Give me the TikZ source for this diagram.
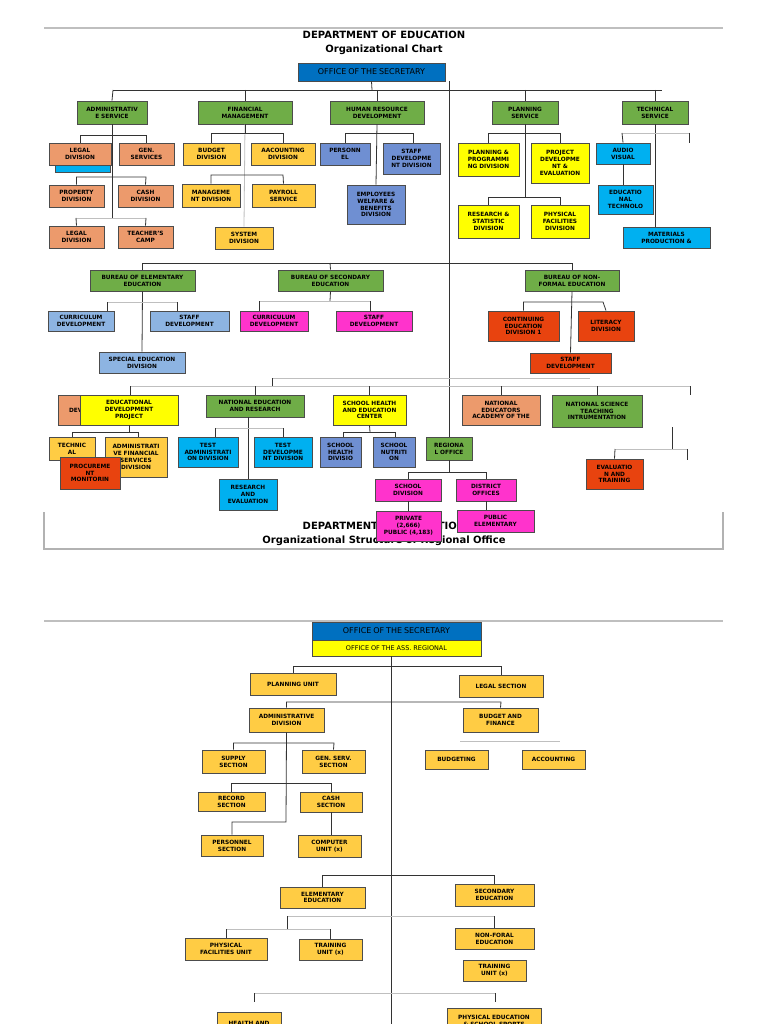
\documentclass[tikz,border=0pt]{standalone}
\usepackage{fontspec}
\setmainfont{DejaVu Sans}
\definecolor{cgreen}{HTML}{6FAD47}
\definecolor{corange}{HTML}{EC9A6C}
\definecolor{cgold}{HTML}{FFCC44}
\definecolor{cbgrey}{HTML}{6F8FD2}
\definecolor{ccyan}{HTML}{00B0F0}
\definecolor{cyel}{HTML}{FFFF00}
\definecolor{cmag}{HTML}{FF33CC}
\definecolor{cred}{HTML}{E8430F}
\definecolor{clblue}{HTML}{8DB4E2}
\definecolor{cdblue}{HTML}{0070C0}
\tikzset{box/.style={draw=black!70,line width=0.9pt,align=center,inner sep=0pt,
  font=\fontsize{5.8}{6.8}\selectfont\bfseries},
  ln/.style={draw=black!80,line width=0.8pt},
  fln/.style={draw=black!25,line width=0.8pt},
  ttl/.style={font=\fontsize{10}{12}\selectfont\bfseries}}
\newcommand\bx[7]{\pgfmathsetmacro\mytw{#4-#2-2}\pgfmathsetmacro\mymw{#4-#2}\pgfmathsetmacro\mymh{#5-#3}%
  \node[box,fill=#6,minimum width=\mymw pt,minimum height=\mymh pt,text width=\mytw pt] (#1) at ({(#2+#4)/2},{(#3+#5)/2}) {#7};}
\newcommand\con[3]{\draw[ln] (#1.south) -- (#1.south |- 0,#2) -| (#3.north);}
\begin{document}
\begin{tikzpicture}[x=1pt,y=-1pt]
\useasboundingbox (0,0) rectangle (768,1024);
\fill[white] (0,0) rectangle (768,1024);
\clip (0,0) rectangle (768,1024);
% ===== top chart =====
\draw[black!25,line width=1.2pt] (44,28) -- (723,28);
\node[ttl] (t1) at (384,35) {DEPARTMENT OF EDUCATION};
\node[ttl] (t2) at (384,50) {Organizational Chart};
\bx{sec}{298}{63}{445}{81}{cdblue}{\fontsize{8}{9}\selectfont\mdseries OFFICE OF THE SECRETARY}
\bx{adm}{77}{101}{147}{124}{cgreen}{ADMINISTRATIV\\E SERVICE}
\bx{fin}{198}{101}{292}{124}{cgreen}{FINANCIAL\\MANAGEMENT}
\bx{hr}{330}{101}{424}{124}{cgreen}{HUMAN RESOURCE\\DEVELOPMENT}
\bx{pla}{492}{101}{558}{124}{cgreen}{PLANNING\\SERVICE}
\bx{tec}{622}{101}{688}{124}{cgreen}{TECHNICAL\\SERVICE}
\coordinate (trunk) at (449,81);
\draw[ln] (sec.south) -- (372,90);
\draw[ln] (113,90) -- (662,90);
\foreach \n/\x in {adm/113,fin/245,hr/377,pla/525,tec/655}{\draw[ln] (\x,90) -- (\n.north);}
% admin
\bx{info}{55}{150}{110}{172}{ccyan}{\\INFORMATI}
\bx{leg1}{49}{143}{111}{165}{corange}{LEGAL\\DIVISION}
\bx{gen}{119}{143}{174}{165}{corange}{GEN.\\SERVICES}
\bx{prop}{49}{185}{104}{207}{corange}{PROPERTY\\DIVISION}
\bx{cash}{118}{185}{173}{207}{corange}{CASH\\DIVISION}
\bx{leg2}{49}{226}{104}{248}{corange}{LEGAL\\DIVISION}
\bx{tcamp}{118}{226}{173}{248}{corange}{TEACHER'S\\CAMP}
\draw[ln] (adm.south) -- (112,218);
\con{adm}{135}{leg1}\con{adm}{135}{gen}
\draw[ln] (prop.north) |- (146,177) -- (cash.north);
\draw[fln] (76,218) -- (146,218);
\draw[ln] (leg2.north) -- (76,218); \draw[ln] (tcamp.north) -- (146,218);
% financial
\bx{bud}{183}{143}{240}{165}{cgold}{BUDGET\\DIVISION}
\bx{acc}{251}{143}{315}{165}{cgold}{AACOUNTING\\DIVISION}
\bx{mgt}{182}{184}{240}{207}{cgold}{MANAGEME\\NT DIVISION}
\bx{pay}{252}{184}{315}{207}{cgold}{PAYROLL\\SERVICE}
\bx{sys}{215}{227}{273}{249}{cgold}{SYSTEM\\DIVISION}
\draw[fln] (fin.south) -- (sys.north);
\con{fin}{133}{bud}\con{fin}{133}{acc}
\draw[ln] (mgt.north) |- (283,175) -- (pay.north);
% HR
\bx{pers}{320}{143}{370}{165}{cbgrey}{PERSONN\\EL}
\bx{sdev}{383}{143}{440}{174}{cbgrey}{STAFF\\DEVELOPME\\NT DIVISION}
\bx{emp}{347}{185}{405}{224}{cbgrey}{EMPLOYEES\\WELFARE \&\\BENEFITS\\DIVISION}
\draw[ln] (hr.south) -- (emp.north);
\draw[ln] (345,143) |- (413,133) -- (413,143);
% planning
\bx{pp}{458}{143}{519}{176}{cyel}{PLANNING \&\\PROGRAMMI\\NG DIVISION}
\bx{pd}{531}{143}{589}{183}{cyel}{PROJECT\\DEVELOPME\\NT \&\\EVALUATION}
\bx{rs}{458}{205}{519}{238}{cyel}{RESEARCH \&\\STATISTIC\\DIVISION}
\bx{pf}{531}{205}{589}{238}{cyel}{PHYSICAL\\FACILITIES\\DIVISION}
\draw[ln] (pla.south) -- (525,198);
\con{pla}{133}{pp}\con{pla}{133}{pd}
\draw[ln] (rs.north) |- (560,197) -- (pf.north);
% technical
\bx{av}{596}{143}{650}{164}{ccyan}{AUDIO\\VISUAL}
\bx{et}{598}{185}{653}{214}{ccyan}{EDUCATIO\\NAL\\TECHNOLO}
\bx{mp}{623}{227}{710}{248}{ccyan}{MATERIALS\\PRODUCTION \&}
\draw[ln] (tec.south) -- (mp.north -| tec.south);
\draw[fln] (622,133) -- (689,133);
\draw[ln] (av.north) -- (622,133); \draw[ln] (689,133) -- (689,143);
\draw[ln] (av.south) -- (av.south |- et.north);
% bureaus
\draw[ln] (trunk) -- (449,437);
\bx{be}{90}{270}{195}{291}{cgreen}{BUREAU OF ELEMENTARY\\EDUCATION}
\bx{bs}{278}{270}{383}{291}{cgreen}{BUREAU OF SECONDARY\\EDUCATION}
\bx{bn}{525}{270}{619}{291}{cgreen}{BUREAU OF NON-\\FORMAL EDUCATION}
\draw[ln] (be.north) |- (572,263) -- (bn.north);
\draw[ln] (bs.north) -- (330,263);
\bx{cd1}{48}{311}{114}{331}{clblue}{CURRICULUM\\DEVELOPMENT}
\bx{sd1}{150}{311}{229}{331}{clblue}{STAFF\\DEVELOPMENT}
\bx{se}{99}{352}{185}{373}{clblue}{SPECIAL EDUCATION\\DIVISION}
\draw[ln] (be.south) -- (se.north);
\draw[fln] (107,302) -- (177,302);
\draw[ln] (107,311) -- (107,302); \draw[ln] (177,311) -- (177,302);
\bx{cd2}{240}{311}{308}{331}{cmag}{CURRICULUM\\DEVELOPMENT}
\bx{sd2}{336}{311}{412}{331}{cmag}{STAFF\\DEVELOPMENT}
\draw[ln] (bs.south) -- (330,301);
\draw[fln] (259,301) -- (370,301);
\draw[ln] (259,311) -- (259,301); \draw[ln] (370,311) -- (370,301);
\bx{ce}{488}{311}{559}{341}{cred}{CONTINUING\\EDUCATION\\DIVISION 1}
\bx{lit}{578}{311}{634}{341}{cred}{LITERACY\\DIVISION}
\bx{sd3}{530}{353}{611}{373}{cred}{STAFF\\DEVELOPMENT}
\draw[ln] (bn.south) -- (sd3.north);
\draw[ln] (ce.north) |- (603,302) -- (lit.north);
% third level
\bx{sd4}{58}{395}{120}{425}{corange}{S\\DEVELOPME\\NT D}
\bx{edp}{80}{395}{178}{425}{cyel}{EDUCATIONAL\\DEVELOPMENT\\PROJECT}
\bx{ner}{206}{395}{304}{417}{cgreen}{NATIONAL EDUCATION\\AND RESEARCH}
\bx{she}{333}{395}{406}{425}{cyel}{SCHOOL HEALTH\\AND EDUCATION\\CENTER}
\bx{nea}{462}{395}{540}{425}{corange}{NATIONAL\\EDUCATORS\\ACADEMY OF THE}
\bx{nst}{552}{395}{642}{427}{cgreen}{NATIONAL SCIENCE\\TEACHING\\INTRUMENTATION}
\draw[fln] (272,378) -- (590,378);
\draw[ln] (272,378) -- (272,386);
\draw[fln] (130,386) -- (690,386);
\draw[ln] (130,386) -- (130,395);
\draw[ln] (ner.north |- 0,386) -- (ner.north);
\draw[ln] (she.north |- 0,386) -- (she.north);
\draw[ln] (nea.north |- 0,386) -- (nea.north);
\draw[ln] (nst.north |- 0,386) -- (nst.north);
\draw[ln] (690,386) -- (690,395);
\bx{tech}{49}{437}{95}{460}{cgold}{TECHNIC\\AL}
\bx{afs}{105}{437}{167}{477}{cgold}{ADMINISTRATI\\VE FINANCIAL\\SERVICES\\DIVISION}
\bx{proc}{60}{457}{120}{489}{cred}{PROCUREME\\NT\\MONITORIN}
\draw[ln] (edp.south) -- (129,432);
\draw[ln] (tech.north) |- (138,432) -- (138,437);
\bx{ta}{178}{437}{238}{467}{ccyan}{TEST\\ADMINISTRATI\\ON DIVISION}
\bx{td}{254}{437}{312}{467}{ccyan}{TEST\\DEVELOPME\\NT DIVISION}
\bx{re}{219}{479}{277}{510}{ccyan}{RESEARCH\\AND\\EVALUATION}
\draw[ln] (re.north |- ner.south) -- (re.north);
\draw[fln] (215,428) -- (283,428);
\draw[ln] (215,428) -- (215,437); \draw[ln] (283,428) -- (283,437);
\bx{shd}{320}{437}{361}{467}{cbgrey}{SCHOOL\\HEALTH\\DIVISIO}
\bx{snu}{373}{437}{415}{467}{cbgrey}{SCHOOL\\NUTRITI\\ON}
\draw[ln] (she.south) -- (370,432);
\draw[ln] (343,437) |- (395,432) -- (395,437);
\bx{reg}{426}{437}{472}{460}{cgreen}{REGIONA\\L OFFICE}
\bx{eval}{586}{459}{643}{489}{cred}{EVALUATIO\\N AND\\TRAINING}
\draw[ln] (672,427) -- (672,449);
\draw[fln] (615,449) -- (687,449);
\draw[ln] (eval.north) -- (615,449); \draw[ln] (687,449) -- (687,460);
% bottom frame of first page
\draw[black!30,line width=1.2pt] (44,512) -- (44,549) -- (723,549) -- (723,512);
\node[ttl] (t3) at (384,526) {DEPARTMENT OF EDUCATION};
\node[ttl] (t4) at (384,541) {Organizational Structure of Regional Office};
\bx{sdiv}{375}{479}{441}{501}{cmag}{SCHOOL\\DIVISION}
\bx{dist}{456}{479}{516}{501}{cmag}{DISTRICT\\OFFICES}
\bx{priv}{376}{511}{441}{541}{cmag}{PRIVATE\\(2,666)\\PUBLIC (4,183)}
\bx{pub}{457}{510}{534}{532}{cmag}{PUBLIC\\ELEMENTARY}
\draw[ln] (reg.south) -- (449,472);
\draw[ln] (sdiv.north) |- (486,472) -- (dist.north);
\draw[ln] (sdiv.south) -- (priv.north -| sdiv.south);
\draw[ln] (dist.south) -- (pub.north -| dist.south);
% ===== second chart =====
\draw[black!25,line width=1.2pt] (44,621) -- (723,621);
\bx{sec2}{312}{622}{481}{640}{cdblue}{\fontsize{8}{9}\selectfont\mdseries OFFICE OF THE SECRETARY}
\bx{ass}{312}{640}{481}{656}{cyel}{\fontsize{6.5}{7}\selectfont\mdseries OFFICE OF THE ASS. REGIONAL}
\draw[ln] (391,656) -- (391,1024);
\bx{pu}{250}{673}{336}{695}{cgold}{PLANNING UNIT}
\bx{ls}{459}{675}{543}{697}{cgold}{LEGAL SECTION}
\draw[ln] (pu.north) |- (501,666) -- (ls.north);
\bx{ad}{249}{708}{324}{732}{cgold}{ADMINISTRATIVE\\DIVISION}
\bx{bf}{463}{708}{538}{732}{cgold}{BUDGET AND\\FINANCE}
\draw[ln] (ad.north) |- (501,702) -- (bf.north);
\bx{sup}{202}{750}{265}{773}{cgold}{SUPPLY\\SECTION}
\bx{gs}{302}{750}{365}{773}{cgold}{GEN. SERV.\\SECTION}
\bx{rec}{198}{792}{265}{811}{cgold}{RECORD\\SECTION}
\bx{cs}{300}{792}{362}{812}{cgold}{CASH\\SECTION}
\bx{per}{201}{835}{263}{856}{cgold}{PERSONNEL\\SECTION}
\bx{cu}{298}{835}{361}{857}{cgold}{COMPUTER\\UNIT (x)}
\draw[ln] (ad.south) -- (286,822) -- (232,822) -- (per.north -| 232,0);
\draw[ln] (sup.north) |- (334,743) -- (gs.north);
\draw[ln] (rec.north) |- (331,783) -- (cs.north);
\draw[ln] (cs.south) -- (cu.north -| cs.south);
\bx{bdg}{425}{750}{488}{769}{cgold}{BUDGETING}
\bx{acct}{522}{750}{585}{769}{cgold}{ACCOUNTING}
\draw[fln] (460,741) -- (560,741);
\bx{ele}{280}{887}{365}{908}{cgold}{ELEMENTARY\\EDUCATION}
\bx{scd}{455}{884}{534}{906}{cgold}{SECONDARY\\EDUCATION}
\draw[ln] (ele.north) |- (scd.north |- 0,875) -- (scd.north);
\bx{pfu}{185}{938}{267}{960}{cgold}{PHYSICAL\\FACILITIES UNIT}
\bx{tu1}{299}{939}{362}{960}{cgold}{TRAINING\\UNIT (x)}
\bx{nfe}{455}{928}{534}{949}{cgold}{NON-FORAL\\EDUCATION}
\bx{tu2}{463}{960}{526}{981}{cgold}{TRAINING\\UNIT (x)}
\draw[fln] (287,916) -- (494,916);
\draw[ln] (287,916) -- (287,929); \draw[ln] (nfe.north |- 0,916) -- (nfe.north);
\draw[fln] (226,929) -- (330,929);
\draw[ln] (pfu.north) -- (pfu.north |- 0,929); \draw[ln] (tu1.north) -- (tu1.north |- 0,929);
\bx{ha}{217}{1012}{281}{1034}{cgold}{HEALTH AND\\}
\bx{pe}{447}{1008}{541}{1034}{cgold}{PHYSICAL EDUCATION\\\& SCHOOL SPORTS}
\draw[fln] (254,993) -- (495,993);
\draw[ln] (254,993) -- (254,1002); \draw[ln] (495,993) -- (495,1002);
\end{tikzpicture}
\end{document}
